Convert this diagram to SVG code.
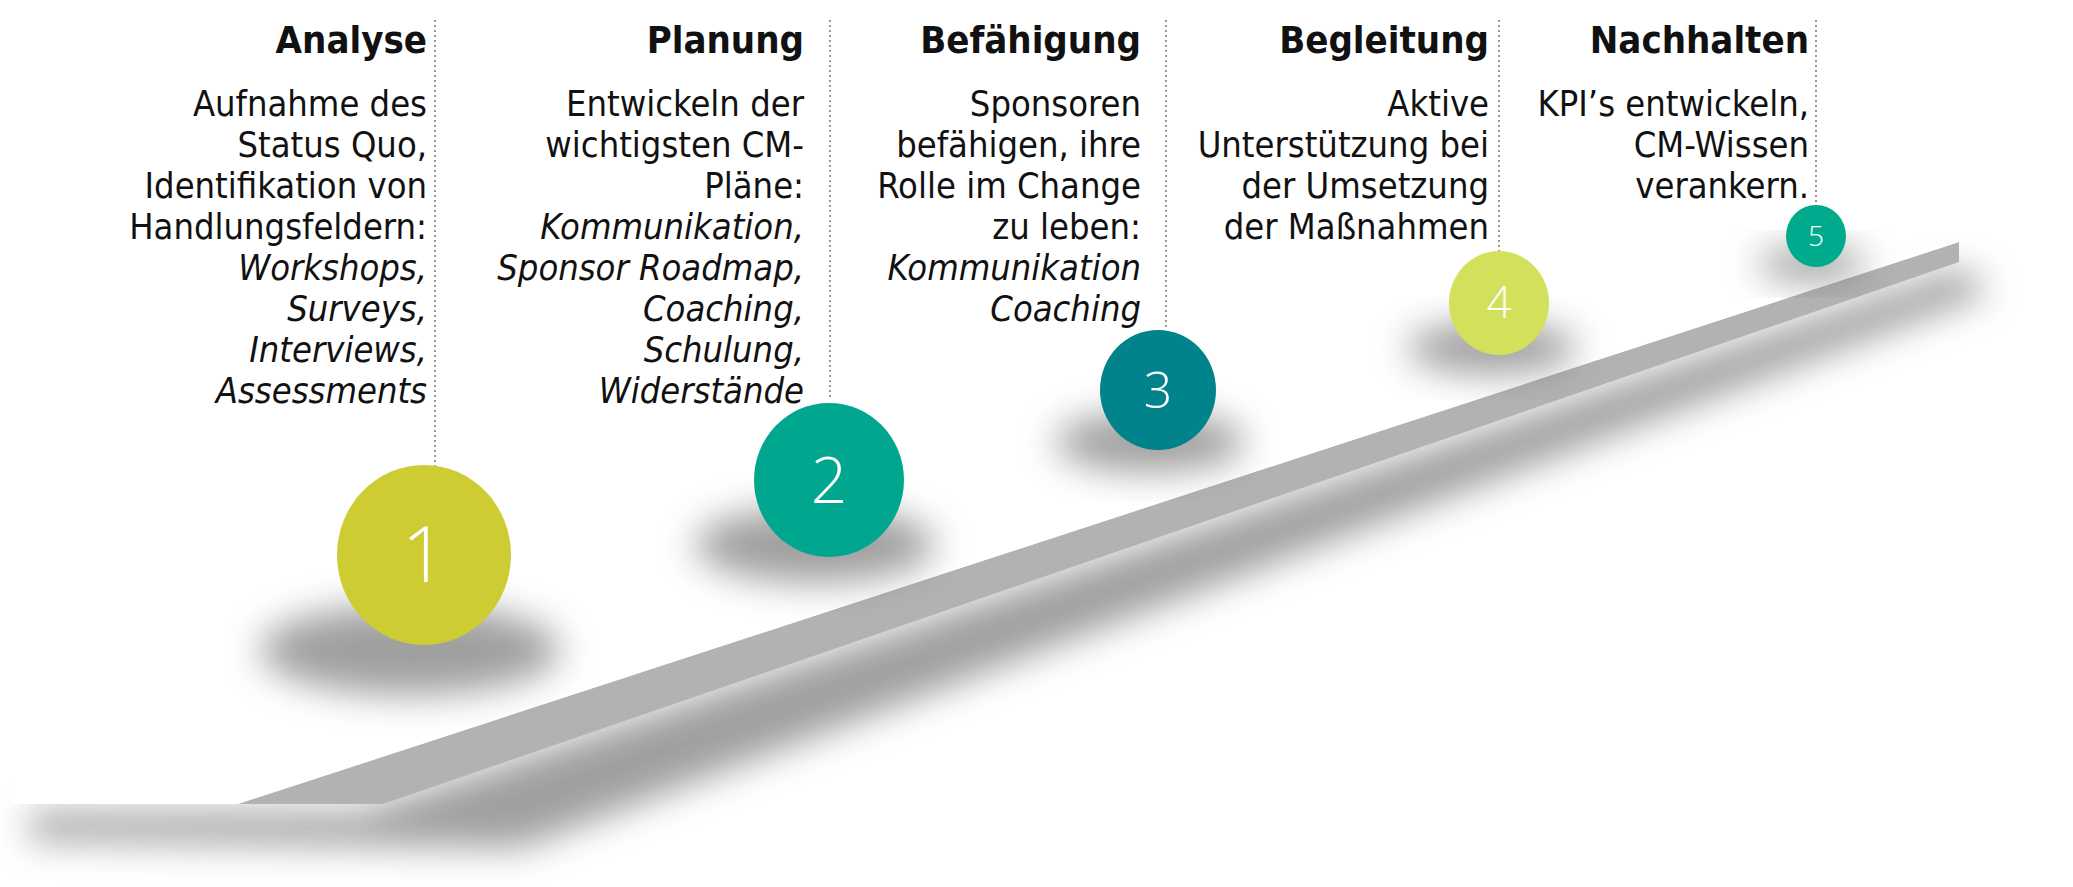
<svg xmlns="http://www.w3.org/2000/svg" width="2073" height="887" viewBox="0 0 2073 887">
<defs>
<filter id="blur" x="-50%" y="-50%" width="200%" height="200%"><feGaussianBlur stdDeviation="18"/></filter>
<filter id="blur2" x="-20%" y="-50%" width="140%" height="200%"><feGaussianBlur stdDeviation="18"/></filter>
<style>
.t{font-family:"DejaVu Sans Condensed","DejaVu Sans",sans-serif;font-weight:bold;font-size:38px;fill:#111;text-anchor:end}
.b{font-family:"DejaVu Sans Condensed","DejaVu Sans",sans-serif;font-size:36px;fill:#111;text-anchor:end}
.i{font-style:italic}
.d{stroke:#999;stroke-width:2;stroke-dasharray:2 3}
.n{font-family:"Open Sans",sans-serif;font-weight:300;fill:#fff;text-anchor:middle}
</style>
</defs>
<rect width="2073" height="887" fill="#fff"/>
<g id="ramp">
<polygon points="30,812 360,812 1960,268 1990,292 520,848 30,840" fill="#777" opacity="0.7" filter="url(#blur2)"/>
<polygon points="238,804 1959,242 1959,262 383,804" fill="#b2b2b2"/>
<polygon points="10,560 1959,242 238,804 10,804" fill="#fff"/>
</g>
<g id="connectors">
<line class="d" x1="435" y1="20" x2="435" y2="466"/>
<line class="d" x1="830" y1="20" x2="830" y2="400"/>
<line class="d" x1="1166" y1="20" x2="1166" y2="330"/>
<line class="d" x1="1499" y1="20" x2="1499" y2="252"/>
<line class="d" x1="1816" y1="20" x2="1816" y2="205"/>
</g>
<g id="n1">
<ellipse cx="410" cy="650" rx="150" ry="45" fill="#777" opacity="0.7" filter="url(#blur)"/>
<ellipse cx="424" cy="555" rx="87" ry="90" fill="#CDCC33"/>
<text class="n" x="424" y="582" font-size="78">1</text>
<text class="t" x="427" y="53">Analyse</text>
<text class="b" x="427" y="116">Aufnahme des</text>
<text class="b" x="427" y="157">Status Quo,</text>
<text class="b" x="427" y="198">Identifikation von</text>
<text class="b" x="427" y="239">Handlungsfeldern:</text>
<text class="b i" x="427" y="280">Workshops,</text>
<text class="b i" x="427" y="321">Surveys,</text>
<text class="b i" x="427" y="362">Interviews,</text>
<text class="b i" x="427" y="403">Assessments</text>
</g>
<g id="n2">
<ellipse cx="815" cy="545" rx="120" ry="38" fill="#777" opacity="0.7" filter="url(#blur)"/>
<ellipse cx="829" cy="480" rx="75" ry="77" fill="#00A78E"/>
<text class="n" x="829" y="503" font-size="64">2</text>
<text class="t" x="804" y="53">Planung</text>
<text class="b" x="804" y="116">Entwickeln der</text>
<text class="b" x="804" y="157">wichtigsten CM-</text>
<text class="b" x="804" y="198">Pläne:</text>
<text class="b i" x="804" y="239">Kommunikation,</text>
<text class="b i" x="804" y="280">Sponsor Roadmap,</text>
<text class="b i" x="804" y="321">Coaching,</text>
<text class="b i" x="804" y="362">Schulung,</text>
<text class="b i" x="804" y="403">Widerstände</text>
</g>
<g id="n3">
<ellipse cx="1150" cy="442" rx="95" ry="30" fill="#777" opacity="0.7" filter="url(#blur)"/>
<ellipse cx="1158" cy="390" rx="58" ry="60" fill="#00838A"/>
<text class="n" x="1158" y="408" font-size="50">3</text>
<text class="t" x="1141" y="53">Befähigung</text>
<text class="b" x="1141" y="116">Sponsoren</text>
<text class="b" x="1141" y="157">befähigen, ihre</text>
<text class="b" x="1141" y="198">Rolle im Change</text>
<text class="b" x="1141" y="239">zu leben:</text>
<text class="b i" x="1141" y="280">Kommunikation</text>
<text class="b i" x="1141" y="321">Coaching</text>
</g>
<g id="n4">
<ellipse cx="1492" cy="348" rx="85" ry="26" fill="#777" opacity="0.7" filter="url(#blur)"/>
<ellipse cx="1499" cy="303" rx="50" ry="52" fill="#D3E05C"/>
<text class="n" x="1499" y="318" font-size="44">4</text>
<text class="t" x="1489" y="53">Begleitung</text>
<text class="b" x="1489" y="116">Aktive</text>
<text class="b" x="1489" y="157">Unterstützung bei</text>
<text class="b" x="1489" y="198">der Umsetzung</text>
<text class="b" x="1489" y="239">der Maßnahmen</text>
</g>
<g id="n5">
<ellipse cx="1812" cy="264" rx="55" ry="17" fill="#777" opacity="0.7" filter="url(#blur)"/>
<ellipse cx="1816" cy="236" rx="30" ry="31" fill="#00AA8D"/>
<text class="n" x="1816" y="246" font-size="28">5</text>
<text class="t" x="1809" y="53">Nachhalten</text>
<text class="b" x="1809" y="116">KPI’s entwickeln,</text>
<text class="b" x="1809" y="157">CM-Wissen</text>
<text class="b" x="1809" y="198">verankern.</text>
</g>
</svg>
